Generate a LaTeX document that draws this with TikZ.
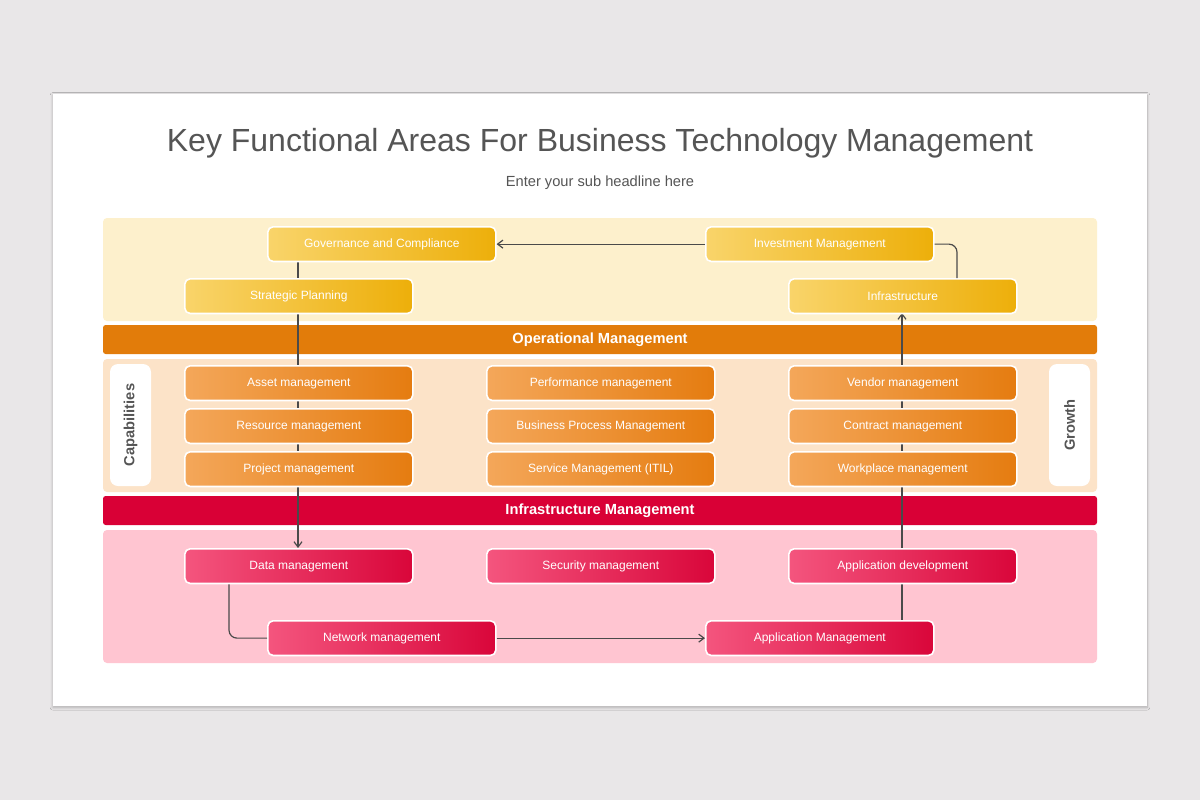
\documentclass[tikz,border=0pt]{standalone}
\usepackage{fontspec}
\setmainfont{Liberation Sans}
\usetikzlibrary{arrows.meta,shadows.blur}
\definecolor{bgc}{HTML}{E9E7E8}
\definecolor{ttl}{HTML}{555555}
\definecolor{bandY}{HTML}{FDF0CC}
\definecolor{bandO}{HTML}{FCE3C8}
\definecolor{bandP}{HTML}{FFC5D1}
\definecolor{barO}{HTML}{E27C0A}
\definecolor{barR}{HTML}{D90036}
\definecolor{yl}{HTML}{F9D46A}\definecolor{yr}{HTML}{EDAF0A}
\definecolor{ol}{HTML}{F4A75A}\definecolor{or}{HTML}{E57C10}
\definecolor{pl}{HTML}{F4557E}\definecolor{pr}{HTML}{D9063A}
\definecolor{lnc}{HTML}{4A4A4A}
\tikzset{
 box/.style={draw=white,line width=1.2pt,rounded corners=4pt,minimum width=171pt,minimum height=26pt,text=white,font=\fontsize{9}{10}\selectfont,inner sep=0pt,anchor=north west},
 ybox/.style={box,left color=yl,right color=yr},
 obox/.style={box,left color=ol,right color=or},
 pbox/.style={box,left color=pl,right color=pr},
 conn/.style={draw=lnc,line width=0.9pt,rounded corners=6pt},
 arr/.style={conn,-{Straight Barb[length=4pt,width=6pt]}},
 bar/.style={rounded corners=2pt,text=white,font=\bfseries\fontsize{11}{12}\selectfont},
}
\begin{document}
\begin{tikzpicture}[x=0.75pt,y=-0.75pt]
\fill[bgc] (0,0) rectangle (1200,800);
\useasboundingbox (0,0) rectangle (1200,800);
\fill[white,blur shadow={shadow blur steps=8,shadow xshift=0pt,shadow yshift=-1pt,shadow opacity=25}] (53,94) rectangle (1147,706);
\node[text=ttl,font=\fontsize{24}{28}\selectfont] (title) at (600,143) {Key Functional Areas For Business Technology Management};
\node[text=ttl,font=\fontsize{11}{13}\selectfont] (sub) at (600,183) {Enter your sub headline here};
\fill[bandY,rounded corners=3pt] (103,218) rectangle (1097,321);
\fill[bandO,rounded corners=3pt] (103,359) rectangle (1097,492);
\fill[bandP,rounded corners=3pt] (103,530) rectangle (1097,663);
\fill[barO,rounded corners=2pt] (103,325) rectangle (1097,354);
\node[text=white,font=\bfseries\fontsize{11}{12}\selectfont] (op) at (600,340) {Operational Management};
\fill[barR,rounded corners=2pt] (103,496) rectangle (1097,525);
\node[text=white,font=\bfseries\fontsize{11}{12}\selectfont] (inf) at (600,511) {Infrastructure Management};
\fill[white,rounded corners=6pt] (110,364) rectangle (151,486);
\node[rotate=90,text=ttl,font=\bfseries\fontsize{11}{12}\selectfont] (cap) at (130.5,425) {Capabilities};
\fill[white,rounded corners=6pt] (1049,364) rectangle (1090,486);
\node[rotate=90,text=ttl,font=\bfseries\fontsize{11}{12}\selectfont] (gro) at (1069.5,425) {Growth};
% connectors (behind boxes)
\coordinate (c1) at (298,261);
\coordinate (c2) at (298,548);
\draw[arr] (c1) -- (c2);
\coordinate (c3) at (902,620);
\coordinate (c4) at (902,313);
\draw[arr] (c3) -- (c4);
% boxes
\node[ybox] (gov) at (267,226) {Governance and Compliance};
\node[ybox] (inv) at (705,226) {Investment Management};
\node[ybox] (sp) at (184,278) {Strategic Planning};
\node[ybox] (infra) at (788,278) {Infrastructure};
\node[obox] (a1) at (184,365) {Asset management};
\node[obox] (a2) at (184,408) {Resource management};
\node[obox] (a3) at (184,451) {Project management};
\node[obox] (b1) at (486,365) {Performance management};
\node[obox] (b2) at (486,408) {Business Process Management};
\node[obox] (b3) at (486,451) {Service Management (ITIL)};
\node[obox] (d1) at (788,365) {Vendor management};
\node[obox] (d2) at (788,408) {Contract management};
\node[obox] (d3) at (788,451) {Workplace management};
\node[pbox] (dm) at (184,548) {Data management};
\node[pbox] (sm) at (486,548) {Security management};
\node[pbox] (ad) at (788,548) {Application development};
\node[pbox] (nm) at (267,620) {Network management};
\node[pbox] (am) at (705,620) {Application Management};
\draw[arr] (inv.west) -- (gov.east);
\draw[conn] (inv.east) -| (infra.north -| 957,0);
\draw[arr] (nm.east) -- (am.west);
\draw[conn] (dm.south -| 229,0) |- (nm.west);
\end{tikzpicture}
\end{document}
